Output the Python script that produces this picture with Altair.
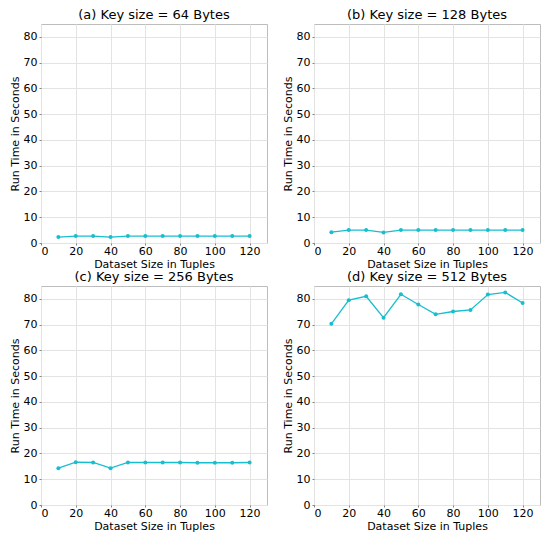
import altair as alt
import pandas as pd

sizes = [10, 20, 30, 40, 50, 60, 70, 80, 90, 100, 110, 120]
run_64 = [2.3, 2.7, 2.7, 2.3, 2.7, 2.7, 2.7, 2.7, 2.7, 2.7, 2.7, 2.7]
run_128 = [4.2, 5.0, 5.0, 4.1, 5.0, 5.0, 5.0, 5.0, 5.0, 5.0, 5.0, 5.0]
run_256 = [14.3, 16.6, 16.5, 14.3, 16.5, 16.5, 16.5, 16.5, 16.4, 16.4, 16.4, 16.5]
run_512 = [70.3, 79.5, 81.0, 72.7, 81.8, 77.8, 74.0, 75.1, 75.7, 81.7, 82.5, 78.4]
titles = ["(a) Key size = 64 Bytes", "(b) Key size = 128 Bytes",
          "(c) Key size = 256 Bytes", "(d) Key size = 512 Bytes"]
series = [run_64, run_128, run_256, run_512]

FONT = "DejaVu Sans"
COLOR = "#17becf"


def panel(title, vals):
    df = pd.DataFrame({"size": sizes, "time": vals})
    base = alt.Chart(df).encode(
        x=alt.X("size:Q", title="Dataset Size in Tuples",
                scale=alt.Scale(domain=[0, 130], nice=False),
                axis=alt.Axis(values=[0, 20, 40, 60, 80, 100, 120])),
        y=alt.Y("time:Q", title="Run Time in Seconds",
                scale=alt.Scale(domain=[0, 85], nice=False),
                axis=alt.Axis(values=[0, 10, 20, 30, 40, 50, 60, 70, 80])),
    )
    line = base.mark_line(color=COLOR, strokeWidth=1.3)
    pts = base.mark_circle(color=COLOR, size=16, opacity=1)
    return (line + pts).properties(
        width=226, height=219,
        title=alt.Title(title, fontSize=13, font=FONT, fontWeight="normal",
                        color="black", offset=2, anchor="middle"),
    )


chart = alt.concat(*[panel(t, v) for t, v in zip(titles, series)],
                   columns=2, spacing={"row": 0, "column": 13}).configure_axis(
    labelFont=FONT, titleFont=FONT, labelFontSize=11, titleFontSize=11,
    labelColor="black", titleColor="black", titleFontWeight="normal",
    tickSize=2, tickColor="#666666", tickWidth=0.8,
    domain=False, gridColor="#e3e3e3", gridWidth=1,
).configure_axisX(
    labelPadding=0, titlePadding=2,
).configure_axisY(
    labelPadding=2, titlePadding=3,
).configure_view(
    stroke="#bdbdbd", strokeWidth=1,
).properties(padding=0)

chart.save("out.html", embed_options={"renderer": "svg", "actions": False})
